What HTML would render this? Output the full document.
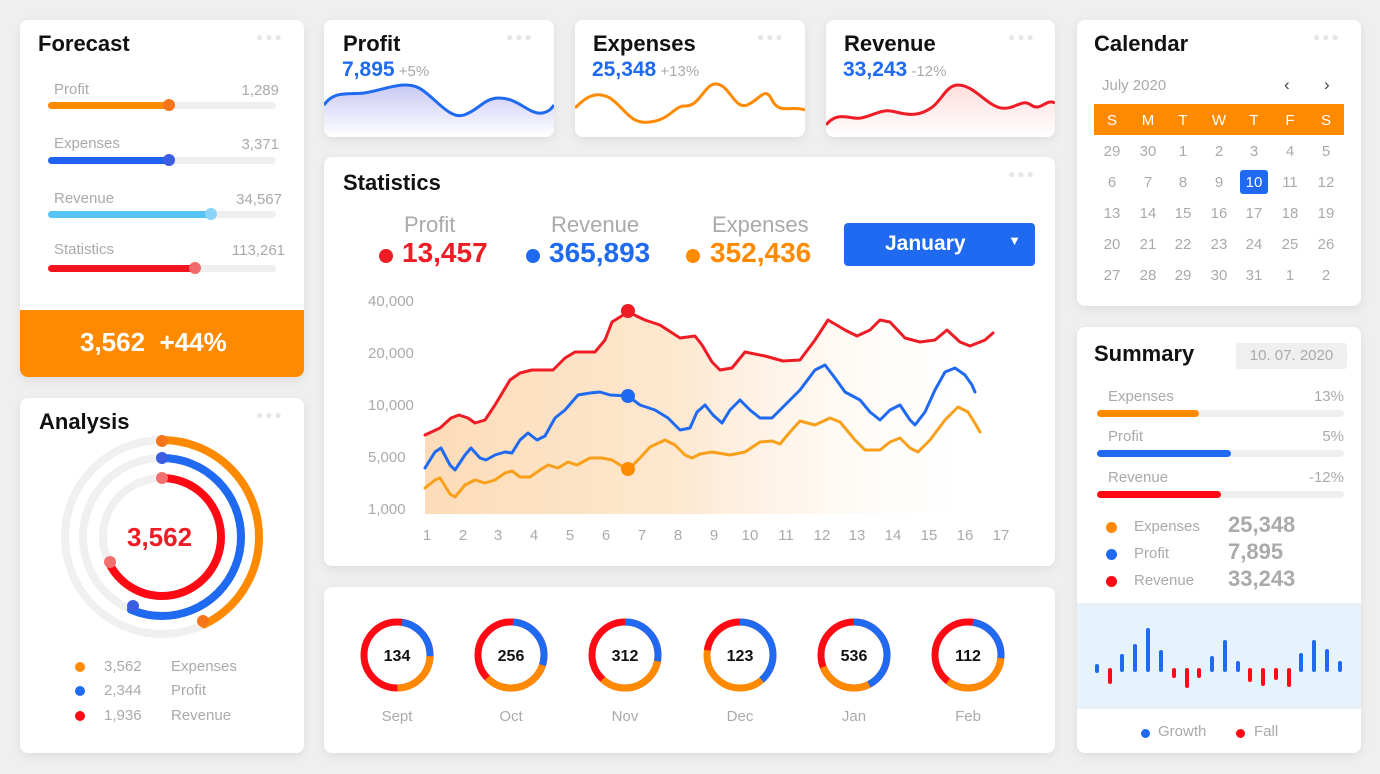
<!DOCTYPE html>
<html><head><meta charset="utf-8"><style>
*{margin:0;padding:0;box-sizing:border-box}
body{width:1380px;height:774px;background:#efefef;font-family:"Liberation Sans",sans-serif;position:relative;overflow:hidden}
.card{position:absolute;background:#fff;border-radius:8px;box-shadow:0 3px 10px rgba(0,0,0,.08);overflow:hidden}
.t{position:absolute;font-weight:bold;font-size:22px;color:#111}
.dots{position:absolute;color:#e6e6e6;font-size:12px;letter-spacing:2px}
.a{position:absolute;white-space:nowrap}
.g{color:#aaa}
.trk{position:absolute;height:7px;background:#efefef;border-radius:4px}
.bar{position:absolute;height:7px;border-radius:4px}
.knob{position:absolute;width:12px;height:12px;border-radius:50%}
.dot{position:absolute;width:12px;height:12px;border-radius:50%}
</style></head><body>

<!-- Forecast -->
<div class="card" style="left:20px;top:20px;width:284px;height:357px">
<div class="t" style="left:18px;top:11px">Forecast</div><div class="dots" style="left:236px;top:10px">●●●</div>
<div class="a g" style="left:34px;top:61px;font-size:15px">Profit</div><div class="a g" style="right:25px;top:62px;font-size:15px">1,289</div>
<div class="trk" style="left:28px;top:82px;width:228px"></div><div class="bar" style="left:28px;top:82px;width:122px;background:#ff8a00"></div><div class="knob" style="left:143px;top:79px;background:#f7751a"></div>
<div class="a g" style="left:34px;top:115px;font-size:15px">Expenses</div><div class="a g" style="right:25px;top:116px;font-size:15px">3,371</div>
<div class="trk" style="left:28px;top:137px;width:228px"></div><div class="bar" style="left:28px;top:137px;width:122px;background:#1f62f0"></div><div class="knob" style="left:143px;top:134px;background:#3b5fe0"></div>
<div class="a g" style="left:34px;top:170px;font-size:15px">Revenue</div><div class="a g" style="right:22px;top:171px;font-size:15px">34,567</div>
<div class="trk" style="left:28px;top:191px;width:228px"></div><div class="bar" style="left:28px;top:191px;width:163px;background:#56c3f5"></div><div class="knob" style="left:185px;top:188px;background:#8ad4f8"></div>
<div class="a g" style="left:34px;top:221px;font-size:15px">Statistics</div><div class="a g" style="right:19px;top:222px;font-size:15px">113,261</div>
<div class="trk" style="left:28px;top:245px;width:228px"></div><div class="bar" style="left:28px;top:245px;width:148px;background:#f5141e"></div><div class="knob" style="left:169px;top:242px;background:#f06a6a"></div>
<div style="position:absolute;left:0;top:290px;width:284px;height:67px;background:#ff8a00"></div>
<div class="a" style="left:60px;top:307px;font-size:26px;color:#fff;font-weight:bold">3,562&nbsp;&nbsp;+44%</div>
</div>

<!-- Analysis -->
<div class="card" style="left:20px;top:398px;width:284px;height:355px">
<div class="t" style="left:19px;top:11px">Analysis</div><div class="dots" style="left:236px;top:10px">●●●</div>
<svg style="position:absolute;left:0;top:0" width="284" height="355">
<g transform="translate(142,139) rotate(-90)" fill="none" stroke-width="8" stroke-linecap="round">
<circle r="97" stroke="#f0f0f0"/><circle r="79" stroke="#f0f0f0"/><circle r="59" stroke="#f0f0f0"/>
<circle r="97" stroke="#ff8a00" stroke-dasharray="261 1000"/>
<circle r="79" stroke="#1f6af0" stroke-dasharray="280 1000"/>
<circle r="59" stroke="#ff0a14" stroke-dasharray="251 1000"/>
</g>
<circle cx="142" cy="43" r="6" fill="#f7751a"/><circle cx="142" cy="60" r="6" fill="#3b5fe0"/><circle cx="142" cy="80" r="6" fill="#f07070"/>
<circle cx="183" cy="223" r="6" fill="#f7751a"/><circle cx="113" cy="208" r="6" fill="#3b5fe0"/><circle cx="90" cy="164" r="6" fill="#f07070"/>
</svg>
<div class="a" style="left:107px;top:124px;font-size:26px;color:#ee1c25;font-weight:bold">3,562</div>
<div class="dot" style="left:55px;top:264px;width:10px;height:10px;background:#ff8a00"></div><div class="a g" style="left:84px;top:260px;font-size:15px">3,562</div><div class="a g" style="left:151px;top:260px;font-size:15px">Expenses</div>
<div class="dot" style="left:55px;top:288px;width:10px;height:10px;background:#1f6af0"></div><div class="a g" style="left:84px;top:284px;font-size:15px">2,344</div><div class="a g" style="left:151px;top:284px;font-size:15px">Profit</div>
<div class="dot" style="left:55px;top:313px;width:10px;height:10px;background:#ff0a14"></div><div class="a g" style="left:84px;top:309px;font-size:15px">1,936</div><div class="a g" style="left:151px;top:309px;font-size:15px">Revenue</div>
</div>

<!-- small cards -->
<div class="card" style="left:324px;top:20px;width:230px;height:117px">
<div class="t" style="left:19px;top:11px">Profit</div><div class="dots" style="left:182px;top:10px">●●●</div>
<div class="a" style="left:18px;top:38px;font-size:21px;color:#1f6af0;font-weight:bold">7,895<span style="font-size:15px;color:#aaa;font-weight:normal"> +5%</span></div>
<svg style="position:absolute;left:0;top:0" width="230" height="117"><defs><linearGradient id="pg" x1="0" y1="0" x2="0" y2="1"><stop offset="0" stop-color="#c9c8f5"/><stop offset="1" stop-color="#fff"/></linearGradient></defs>
<path d="M0,85 C10,70 25,75 40,73 C60,70 80,60 95,68 C110,76 125,100 140,95 C155,90 160,78 175,78 C195,78 205,95 218,93 C225,92 228,88 230,85 L230,117 L0,117Z" fill="url(#pg)"/>
<path d="M0,85 C10,70 25,75 40,73 C60,70 80,60 95,68 C110,76 125,100 140,95 C155,90 160,78 175,78 C195,78 205,95 218,93 C225,92 228,88 230,85" fill="none" stroke="#1f6af0" stroke-width="3"/></svg>
</div>
<div class="card" style="left:575px;top:20px;width:230px;height:117px">
<div class="t" style="left:18px;top:11px">Expenses</div><div class="dots" style="left:182px;top:10px">●●●</div>
<div class="a" style="left:17px;top:38px;font-size:21px;color:#1f6af0;font-weight:bold">25,348<span style="font-size:15px;color:#aaa;font-weight:normal"> +13%</span></div>
<svg style="position:absolute;left:0;top:0" width="230" height="117">
<path d="M0,88 C10,78 20,70 35,78 C50,88 55,105 75,102 C95,100 100,85 110,86 C125,87 130,62 142,64 C155,66 160,90 172,85 C185,80 190,65 197,80 C205,95 215,85 230,90" fill="none" stroke="#ff8a00" stroke-width="3"/></svg>
</div>
<div class="card" style="left:826px;top:20px;width:229px;height:117px">
<div class="t" style="left:18px;top:11px">Revenue</div><div class="dots" style="left:182px;top:10px">●●●</div>
<div class="a" style="left:17px;top:38px;font-size:21px;color:#1f6af0;font-weight:bold">33,243<span style="font-size:15px;color:#aaa;font-weight:normal"> -12%</span></div>
<svg style="position:absolute;left:0;top:0" width="229" height="117"><defs><linearGradient id="rg" x1="0" y1="0" x2="0" y2="1"><stop offset="0" stop-color="#fdd"/><stop offset="1" stop-color="#fff"/></linearGradient></defs>
<path d="M0,105 C12,90 25,100 35,98 C50,95 55,88 70,92 C85,96 95,95 105,88 C115,82 120,65 132,65 C148,65 160,85 175,88 C190,90 195,78 205,85 C215,92 220,78 229,83 L229,117 L0,117Z" fill="url(#rg)"/>
<path d="M0,105 C12,90 25,100 35,98 C50,95 55,88 70,92 C85,96 95,95 105,88 C115,82 120,65 132,65 C148,65 160,85 175,88 C190,90 195,78 205,85 C215,92 220,78 229,83" fill="none" stroke="#ee1c25" stroke-width="3"/></svg>
</div>

<!-- Statistics -->
<div class="card" style="left:324px;top:157px;width:731px;height:409px">
<div class="t" style="left:19px;top:13px">Statistics</div><div class="dots" style="left:684px;top:10px">●●●</div>
<div class="a g" style="left:80px;top:55px;font-size:22px">Profit</div>
<div class="a g" style="left:227px;top:55px;font-size:22px">Revenue</div>
<div class="a g" style="left:388px;top:55px;font-size:22px">Expenses</div>
<div class="dot" style="left:55px;top:92px;width:14px;height:14px;background:#ee1c25"></div><div class="a" style="left:78px;top:80px;font-size:28px;color:#ee1c25;font-weight:bold">13,457</div>
<div class="dot" style="left:202px;top:92px;width:14px;height:14px;background:#1f6af0"></div><div class="a" style="left:225px;top:80px;font-size:28px;color:#1f6af0;font-weight:bold">365,893</div>
<div class="dot" style="left:362px;top:92px;width:14px;height:14px;background:#ff8a00"></div><div class="a" style="left:386px;top:80px;font-size:28px;color:#ff8a00;font-weight:bold">352,436</div>
<div style="position:absolute;left:520px;top:66px;width:191px;height:43px;background:#1f6af0;border-radius:4px;color:#fff;font-size:21px;font-weight:bold;padding:9px 0 0 41px">January<span style="position:absolute;right:14px;top:10px;font-size:13px">▼</span></div>
</div>
<svg style="position:absolute;left:0;top:0" width="1380" height="774">
<defs><linearGradient id="fg" x1="0" y1="0" x2="1" y2="0"><stop offset="0" stop-color="#fcdcb8"/><stop offset=".45" stop-color="#fde8d0"/><stop offset="1" stop-color="#fff" stop-opacity="0"/></linearGradient></defs>
<g font-family="Liberation Sans" font-size="15" fill="#aaa">
<text x="368" y="306">40,000</text><text x="368" y="358">20,000</text><text x="368" y="410">10,000</text><text x="368" y="462">5,000</text><text x="368" y="514">1,000</text>
<g text-anchor="middle"><text x="427" y="540">1</text><text x="463" y="540">2</text><text x="498" y="540">3</text><text x="534" y="540">4</text><text x="570" y="540">5</text><text x="606" y="540">6</text><text x="642" y="540">7</text><text x="678" y="540">8</text><text x="714" y="540">9</text><text x="750" y="540">10</text><text x="786" y="540">11</text><text x="822" y="540">12</text><text x="857" y="540">13</text><text x="893" y="540">14</text><text x="929" y="540">15</text><text x="965" y="540">16</text><text x="1001" y="540">17</text></g></g>
<polygon points="425,435 440,428 451,418 459,415 468,418 475,423 485,420 495,405 510,380 520,373 532,370 553,370 565,358 575,352 595,352 605,340 612,322 628,312 645,320 660,325 680,338 695,336 702,345 712,362 720,370 732,368 745,352 765,356 783,361 800,360 815,340 828,320 845,330 857,336 870,330 880,320 890,322 905,338 920,342 935,340 947,330 960,342 970,346 985,340 993,333 993,514 425,514" fill="url(#fg)"/>
<g fill="none" stroke-width="3" stroke-linejoin="round" stroke-linecap="round">
<polyline stroke="#ee1c25" points="425,435 440,428 451,418 459,415 468,418 475,423 485,420 495,405 510,380 520,373 532,370 553,370 565,358 575,352 595,352 605,340 612,322 628,312 645,320 660,325 680,338 695,336 702,345 712,362 720,370 732,368 745,352 765,356 783,361 800,360 815,340 828,320 845,330 857,336 870,330 880,320 890,322 905,338 920,342 935,340 947,330 960,342 970,346 985,340 993,333"/>
<polyline stroke="#1f6af0" points="425,468 435,452 441,448 450,465 455,470 465,455 471,448 480,458 486,460 495,455 505,452 512,453 520,440 528,433 537,440 545,436 555,418 565,410 578,395 590,393 600,392 610,395 628,396 640,405 655,410 668,418 680,430 690,428 697,412 705,405 713,415 722,423 730,410 740,400 750,410 760,418 772,418 785,405 800,390 815,370 825,365 835,378 845,392 860,400 870,412 880,420 890,410 900,405 910,420 915,425 925,412 935,390 945,372 955,368 965,375 972,385 975,392"/>
<polyline stroke="#f9a01b" points="425,488 435,480 440,478 450,494 455,497 465,485 475,480 485,483 495,480 505,473 512,471 520,477 530,477 540,470 548,465 558,468 568,462 577,465 590,458 602,458 612,460 628,470 640,458 650,447 665,440 675,445 685,455 692,458 700,454 712,452 730,455 745,452 760,442 772,441 780,444 790,432 800,421 815,425 830,418 840,422 855,440 865,450 880,450 890,442 900,438 910,448 918,452 930,440 945,420 958,407 968,412 976,425 980,432"/>
</g>
<circle cx="628" cy="311" r="7" fill="#ee1c25"/><circle cx="628" cy="396" r="7" fill="#1f6af0"/><circle cx="628" cy="469" r="7" fill="#ff8a00"/>
</svg>

<!-- donuts -->
<div class="card" style="left:324px;top:587px;width:731px;height:166px"></div>
<svg style="position:absolute;left:0;top:0" width="1380" height="774" font-family="Liberation Sans">
<g fill="none" stroke-width="7">
<g transform="translate(397,655) rotate(-90)"><circle r="33" stroke="#ff0a14"/><circle r="33" stroke="#1f6af0" stroke-dasharray="0 5 48 1000"/><circle r="33" stroke="#ff8a00" stroke-dasharray="0 53 50 1000"/></g>
<g transform="translate(511,655) rotate(-90)"><circle r="33" stroke="#ff0a14"/><circle r="33" stroke="#1f6af0" stroke-dasharray="0 2 60 1000"/><circle r="33" stroke="#ff8a00" stroke-dasharray="0 62 68 1000"/></g>
<g transform="translate(625,655) rotate(-90)"><circle r="33" stroke="#ff0a14"/><circle r="33" stroke="#1f6af0" stroke-dasharray="0 0 58 1000"/><circle r="33" stroke="#ff8a00" stroke-dasharray="0 58 70 1000"/></g>
<g transform="translate(740,655) rotate(-90)"><circle r="33" stroke="#ff8a00"/><circle r="33" stroke="#1f6af0" stroke-dasharray="0 0 80 1000"/><circle r="33" stroke="#ff0a14" stroke-dasharray="0 160 47 1000"/></g>
<g transform="translate(854,655) rotate(-90)"><circle r="33" stroke="#ff0a14"/><circle r="33" stroke="#1f6af0" stroke-dasharray="0 0 88 1000"/><circle r="33" stroke="#ff8a00" stroke-dasharray="0 88 55 1000"/></g>
<g transform="translate(968,655) rotate(-90)"><circle r="33" stroke="#ff0a14"/><circle r="33" stroke="#1f6af0" stroke-dasharray="0 5 50 1000"/><circle r="33" stroke="#ff8a00" stroke-dasharray="0 55 70 1000"/></g>
</g>
<g font-size="16" font-weight="bold" text-anchor="middle" fill="#111"><text x="397" y="661">134</text><text x="511" y="661">256</text><text x="625" y="661">312</text><text x="740" y="661">123</text><text x="854" y="661">536</text><text x="968" y="661">112</text></g>
<g font-size="15" text-anchor="middle" fill="#aaa"><text x="397" y="721">Sept</text><text x="511" y="721">Oct</text><text x="625" y="721">Nov</text><text x="740" y="721">Dec</text><text x="854" y="721">Jan</text><text x="968" y="721">Feb</text></g>
</svg>

<!-- Calendar -->
<div class="card" style="left:1077px;top:20px;width:284px;height:286px">
<div class="t" style="left:17px;top:11px">Calendar</div><div class="dots" style="left:236px;top:10px">●●●</div>
<div class="a g" style="left:25px;top:57px;font-size:15px">July 2020</div>
<div class="a" style="left:207px;top:55px;font-size:17px;color:#444">‹</div><div class="a" style="left:247px;top:55px;font-size:17px;color:#444">›</div>
<div style="position:absolute;left:17px;top:84px;width:250px;height:31px;background:#ff8a00"></div>
<svg style="position:absolute;left:0;top:0" width="284" height="286" font-family="Liberation Sans" font-size="15" text-anchor="middle">
<g fill="#fff"><text x="35" y="105">S</text><text x="71" y="105">M</text><text x="106" y="105">T</text><text x="142" y="105">W</text><text x="177" y="105">T</text><text x="213" y="105">F</text><text x="249" y="105">S</text></g>
<rect x="163" y="150" width="28" height="24" rx="3" fill="#1f6af0"/>
<g fill="#aaa">
<text x="35" y="136">29</text><text x="71" y="136">30</text><text x="106" y="136">1</text><text x="142" y="136">2</text><text x="177" y="136">3</text><text x="213" y="136">4</text><text x="249" y="136">5</text>
<text x="35" y="167">6</text><text x="71" y="167">7</text><text x="106" y="167">8</text><text x="142" y="167">9</text><text x="177" y="167" fill="#fff">10</text><text x="213" y="167">11</text><text x="249" y="167">12</text>
<text x="35" y="198">13</text><text x="71" y="198">14</text><text x="106" y="198">15</text><text x="142" y="198">16</text><text x="177" y="198">17</text><text x="213" y="198">18</text><text x="249" y="198">19</text>
<text x="35" y="229">20</text><text x="71" y="229">21</text><text x="106" y="229">22</text><text x="142" y="229">23</text><text x="177" y="229">24</text><text x="213" y="229">25</text><text x="249" y="229">26</text>
<text x="35" y="260">27</text><text x="71" y="260">28</text><text x="106" y="260">29</text><text x="142" y="260">30</text><text x="177" y="260">31</text><text x="213" y="260">1</text><text x="249" y="260">2</text>
</g></svg>
</div>

<!-- Summary -->
<div class="card" style="left:1077px;top:327px;width:284px;height:426px">
<div class="t" style="left:17px;top:14px">Summary</div>
<div style="position:absolute;left:159px;top:16px;width:111px;height:26px;background:#efefef;border-radius:3px;color:#aaa;font-size:15px;text-align:center;padding-top:4px">10. 07. 2020</div>
<div class="a g" style="left:31px;top:61px;font-size:15px">Expenses</div><div class="a g" style="right:17px;top:61px;font-size:15px">13%</div>
<div class="trk" style="left:20px;top:83px;width:247px"></div><div class="bar" style="left:20px;top:83px;width:102px;background:#ff8a00"></div>
<div class="a g" style="left:31px;top:101px;font-size:15px">Profit</div><div class="a g" style="right:17px;top:101px;font-size:15px">5%</div>
<div class="trk" style="left:20px;top:123px;width:247px"></div><div class="bar" style="left:20px;top:123px;width:134px;background:#1f6af0"></div>
<div class="a g" style="left:31px;top:142px;font-size:15px">Revenue</div><div class="a g" style="right:17px;top:142px;font-size:15px">-12%</div>
<div class="trk" style="left:20px;top:164px;width:247px"></div><div class="bar" style="left:20px;top:164px;width:124px;background:#ff0a14"></div>
<div class="dot" style="left:29px;top:195px;width:11px;height:11px;background:#ff8a00"></div><div class="a g" style="left:57px;top:191px;font-size:15px">Expenses</div><div class="a" style="left:151px;top:185px;font-size:22px;color:#aaa;font-weight:bold">25,348</div>
<div class="dot" style="left:29px;top:222px;width:11px;height:11px;background:#1f6af0"></div><div class="a g" style="left:57px;top:218px;font-size:15px">Profit</div><div class="a" style="left:151px;top:212px;font-size:22px;color:#aaa;font-weight:bold">7,895</div>
<div class="dot" style="left:29px;top:249px;width:11px;height:11px;background:#ff0a14"></div><div class="a g" style="left:57px;top:245px;font-size:15px">Revenue</div><div class="a" style="left:151px;top:239px;font-size:22px;color:#aaa;font-weight:bold">33,243</div>
<svg style="position:absolute;left:0;top:276px" width="284" height="106">
<rect width="284" height="106" fill="#e6f2fc"/>
<g stroke-width="4" stroke-linecap="round">
<g stroke="#1f6af0"><line x1="20" y1="63" x2="20" y2="68"/><line x1="45" y1="53" x2="45" y2="67"/><line x1="58" y1="43" x2="58" y2="67"/><line x1="71" y1="27" x2="71" y2="67"/><line x1="84" y1="49" x2="84" y2="67"/><line x1="135" y1="55" x2="135" y2="67"/><line x1="148" y1="39" x2="148" y2="67"/><line x1="161" y1="60" x2="161" y2="67"/><line x1="224" y1="52" x2="224" y2="67"/><line x1="237" y1="39" x2="237" y2="67"/><line x1="250" y1="48" x2="250" y2="67"/><line x1="263" y1="60" x2="263" y2="67"/></g>
<g stroke="#ff0a14"><line x1="33" y1="67" x2="33" y2="79"/><line x1="97" y1="67" x2="97" y2="73"/><line x1="110" y1="67" x2="110" y2="83"/><line x1="122" y1="67" x2="122" y2="73"/><line x1="173" y1="67" x2="173" y2="77"/><line x1="186" y1="67" x2="186" y2="81"/><line x1="199" y1="67" x2="199" y2="75"/><line x1="212" y1="67" x2="212" y2="82"/></g>
</g></svg>
<div class="dot" style="left:64px;top:402px;width:9px;height:9px;background:#1f6af0"></div><div class="a g" style="left:81px;top:396px;font-size:15px">Growth</div>
<div class="dot" style="left:159px;top:402px;width:9px;height:9px;background:#ff0a14"></div><div class="a g" style="left:177px;top:396px;font-size:15px">Fall</div>
</div>
</body></html>
